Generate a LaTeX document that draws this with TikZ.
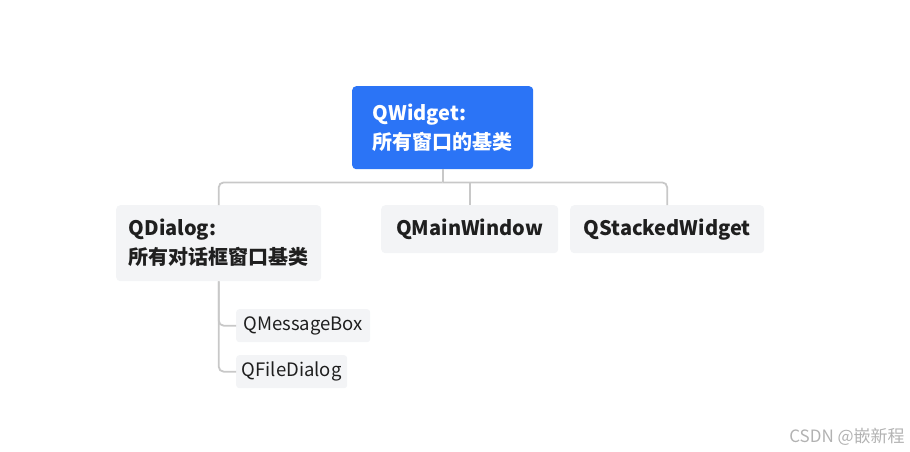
\documentclass[tikz,border=0pt]{standalone}
\usepackage{fontspec}
\setmainfont{Noto Sans CJK SC}
\definecolor{qblue}{HTML}{2B74F6}
\definecolor{qgray}{HTML}{F3F4F6}
\definecolor{qline}{HTML}{C8C8C8}
\definecolor{qtext}{HTML}{1F1F1F}
\begin{document}
\begin{tikzpicture}[x=1pt,y=-1pt,
  box/.style={anchor=north west,rounded corners=4pt,inner sep=0pt,align=left,
    fill=qgray,text=qtext},
  bigbox/.style={box,font=\bfseries\fontsize{20}{29}\selectfont},
  smallbox/.style={box,font=\fontsize{18.5}{20}\selectfont,rounded corners=3pt},
  link/.style={draw=qline,line width=1.8pt,rounded corners=5pt}]
  \useasboundingbox (0,0) rectangle (910,452);

  \node[bigbox,fill=qblue,text=white,minimum width=181pt,minimum height=83pt] (qw) at (352,86) {QWidget:\\所有窗口的基类};
  \node[bigbox,minimum width=205pt,minimum height=76pt] (dlg) at (116,205) {QDialog:\\所有对话框窗口基类};
  \node[bigbox,minimum width=177pt,minimum height=48pt] (mw) at (381,205) {QMainWindow};
  \node[bigbox,minimum width=194pt,minimum height=48pt] (stk) at (570,205) {QStackedWidget};
  \node[smallbox,minimum width=134pt,minimum height=33pt] (msg) at (236,309) {QMessageBox};
  \node[smallbox,minimum width=111pt,minimum height=33pt] (fd) at (236,355) {QFileDialog};

  % connectors
  \coordinate (bus) at ([yshift=-13pt]qw.south);
  \draw[link] (qw.south) -- (bus);
  \draw[link] (bus) -| (dlg.north);
  \draw[link] (bus) -| (stk.north);
  \draw[link] (bus -| mw.north) -- (mw.north);
  \draw[link] (dlg.south) |- (msg.west);
  \draw[link] (dlg.south) |- (fd.west);

  \node[text=black!30,font=\fontsize{17}{20}\selectfont] (mark) at (847,437) {CSDN @嵌新程};
\end{tikzpicture}
\end{document}
